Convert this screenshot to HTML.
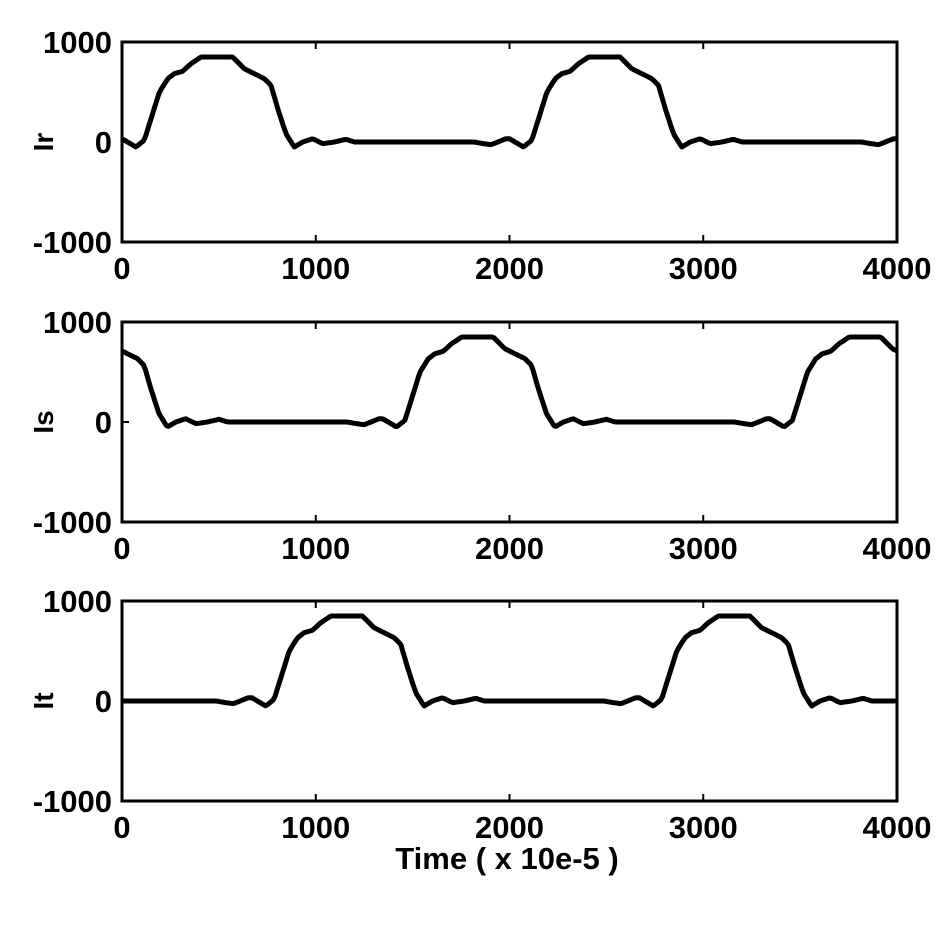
<!DOCTYPE html>
<html><head><meta charset="utf-8"><style>
body{margin:0;background:#fff}
svg text{font-family:"Liberation Sans",Arial,sans-serif;font-weight:bold;fill:#000}
</style></head><body>
<svg id="chart" width="948" height="921" xmlns="http://www.w3.org/2000/svg"></svg>
<script>
// one period (2000) of pulse waveform: time and value
const templateT=[0,72,115,150,193,236,270,313,356,408,571,631,683,735,769,804,846,889,933,984,1036,1096,1156,1200,1818,1860,1905,1982,2000];
const templateV=[33,-50,17,233,500,633,683,707,783,850,850,733,683,633,567,333,83,-50,0,33,-17,0,27,0,0,-15,-27,33,33];
const panelNames=["Ir","Is","It"];
const panelShift=[0,655,-670];
const xTicks=[0,1000,2000,3000,4000];
const yTicks=[-1000,0,1000];
const panelTop=[42,322,601];
const L=122,R=897,H=200;
const svg=document.getElementById('chart');
const NS="http://www.w3.org/2000/svg";
function mk(tag,attrs,parent){const e=document.createElementNS(NS,tag);for(const k in attrs)e.setAttribute(k,attrs[k]);(parent||svg).appendChild(e);return e;}
function tmpl(t){t=((t%2000)+2000)%2000;for(let i=0;i<templateT.length-1;i++){if(t>=templateT[i]&&t<=templateT[i+1]){const f=(t-templateT[i])/(templateT[i+1]-templateT[i]);return templateV[i]+f*(templateV[i+1]-templateV[i]);}}return 0;}
panelNames.forEach((nm,p)=>{
  const top=panelTop[p];
  const g=mk('g',{});
  
  
  const xs=v=>L+(v/4000)*(R-L);
  const ys=v=>top+H/2-(v/1000)*(H/2);
  let d='';
  for(let t=0;t<=4000;t+=10){d+=(t?'L':'M')+xs(t).toFixed(1)+','+ys(tmpl(t+panelShift[p])).toFixed(1);}
  const line=mk('path',{d:d,fill:'none',stroke:'#000','stroke-width':5,'stroke-linejoin':'round'},g);
  
  
  const box=mk('rect',{x:L,y:top,width:R-L,height:H,fill:'none',stroke:'#000','stroke-width':3},g);
  
  
  xTicks.forEach(v=>{
    mk('line',{x1:xs(v),x2:xs(v),y1:top+H,y2:top+H-7,stroke:'#000','stroke-width':2},g);
    mk('line',{x1:xs(v),x2:xs(v),y1:top,y2:top+7,stroke:'#000','stroke-width':2},g);
    const tx=mk('text',{x:xs(v),y:top+H+37,'font-size':31,'text-anchor':'middle'},g);
    tx.textContent=v;
    
    
  });
  yTicks.forEach(v=>{
    mk('line',{x1:L,x2:L+7,y1:ys(v),y2:ys(v),stroke:'#000','stroke-width':2},g);
    const ty=mk('text',{x:L-10,y:ys(v)+11,'font-size':31,'text-anchor':'end'},g);
    ty.textContent=v;
    
    
  });
  const yl=mk('text',{x:0,y:0,'font-size':28,'text-anchor':'middle',transform:`translate(53,${top+H/2}) rotate(-90)`},g);
  yl.textContent=nm;
  
  
});
const xl=mk('text',{x:507,y:869,'font-size':31,'text-anchor':'middle'});
xl.textContent='Time ( x 10e-5 )';


</script>
</body></html>
